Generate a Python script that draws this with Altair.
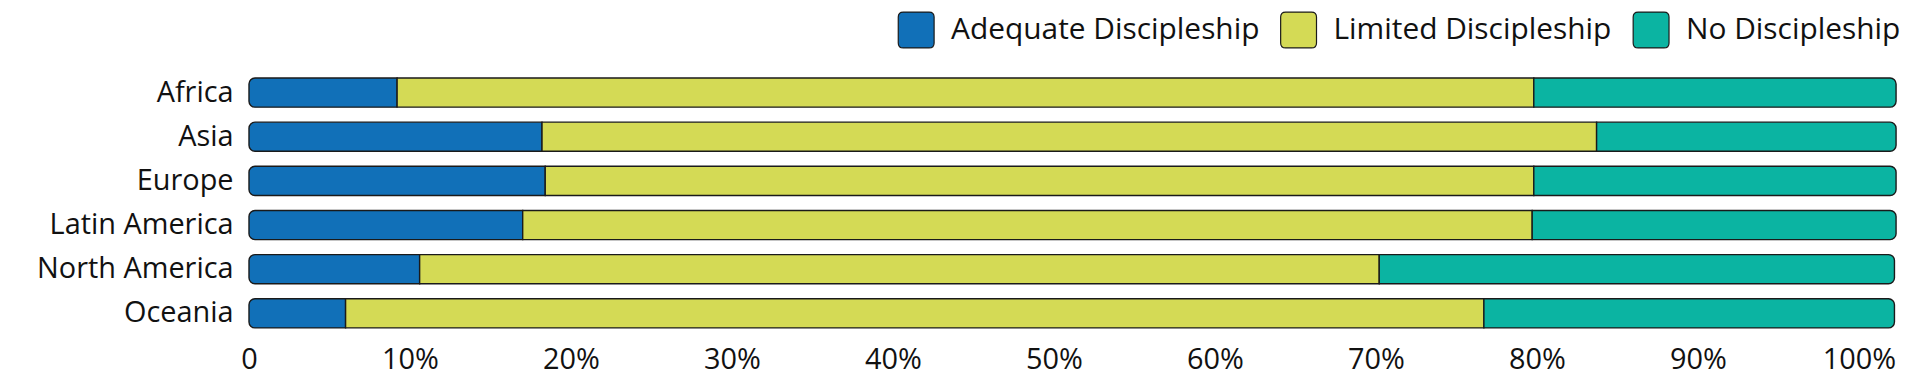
import altair as alt
import pandas as pd

regions = ["Africa", "Asia", "Europe", "Latin America", "North America", "Oceania"]
adequate = [9.2, 18.2, 18.4, 17.0, 10.6, 6.0]
limited = [70.6, 65.5, 61.4, 62.7, 59.6, 70.7]
no_disc = [22.5, 18.6, 22.5, 22.6, 32.0, 25.5]
categories = ["Adequate Discipleship", "Limited Discipleship", "No Discipleship"]
colors = ["#1170b8", "#d4da55", "#0bb4a2"]
tick_values = [0, 10, 20, 30, 40, 50, 60, 70, 80, 90, 100]

rows = []
for i, r in enumerate(regions):
    for k, (cat, vals) in enumerate(zip(categories, [adequate, limited, no_disc])):
        rows.append({"region": r, "category": cat, "order": k, "value": vals[i]})
df = pd.DataFrame(rows)

FONT = "Open Sans"
x_scale = alt.Scale(domain=[0, 102.3], nice=False, zero=True)
y_scale = alt.Scale(domain=regions, paddingInner=0.34, paddingOuter=0.17)
color_scale = alt.Scale(domain=categories, range=colors)

rounded_square = ("M -0.72,-1 L 0.72,-1 Q 1,-1 1,-0.72 L 1,0.72 Q 1,1 0.72,1 "
                  "L -0.72,1 Q -1,1 -1,0.72 L -1,-0.72 Q -1,-1 -0.72,-1 Z")

base = alt.Chart(df).transform_stack(
    stack="value", as_=["x0", "x1"], groupby=["region"],
    sort=[alt.SortField("order", order="ascending")]
)

enc = dict(
    x=alt.X("x0:Q", scale=x_scale, axis=alt.Axis(
        values=tick_values, title=None, grid=False, domain=False, ticks=False,
        labelExpr="datum.value == 0 ? '0' : datum.value + '%'",
        labelFontSize=29, labelFont=FONT, labelColor="#111111", labelPadding=10,
        labelFlush=False)),
    x2="x1:Q",
    y=alt.Y("region:N", scale=y_scale, sort=regions, axis=alt.Axis(
        title=None, grid=False, domain=False, ticks=False, labelLimit=0,
        labelFontSize=29, labelFont=FONT, labelColor="#111111", labelPadding=16)),
)

stroke = dict(stroke="#1a1a1a", strokeWidth=1.4)

left = base.transform_filter(alt.datum.order == 0).mark_bar(
    cornerRadiusTopLeft=6, cornerRadiusBottomLeft=6, **stroke
).encode(
    color=alt.Color("category:N", scale=color_scale, sort=categories,
                    legend=alt.Legend(title=None, orient="none", direction="horizontal",
                                      legendX=651, legendY=-60)),
    **enc)

mid = base.transform_filter(alt.datum.order == 1).mark_bar(**stroke).encode(
    color=alt.Color("category:N", scale=color_scale, sort=categories), **enc)

right = base.transform_filter(alt.datum.order == 2).mark_bar(
    cornerRadiusTopRight=6, cornerRadiusBottomRight=6, **stroke
).encode(
    color=alt.Color("category:N", scale=color_scale, sort=categories), **enc)

chart = alt.layer(left, mid, right).properties(
    width=1654, height=266,
    autosize=alt.AutoSizeParams(type="none"),
    padding={"left": 242, "top": 62, "right": 16, "bottom": 42},
).configure_view(stroke=None).configure_legend(
    symbolType=rounded_square, symbolSize=1296, symbolStrokeColor="#1a1a1a",
    symbolStrokeWidth=1.2, symbolOpacity=1, labelFont=FONT, labelFontSize=30,
    labelColor="#111111", labelOffset=16, columnPadding=18, padding=0,
    labelLimit=0,
)

chart.save("out.html", embed_options={"renderer": "svg", "actions": False})
